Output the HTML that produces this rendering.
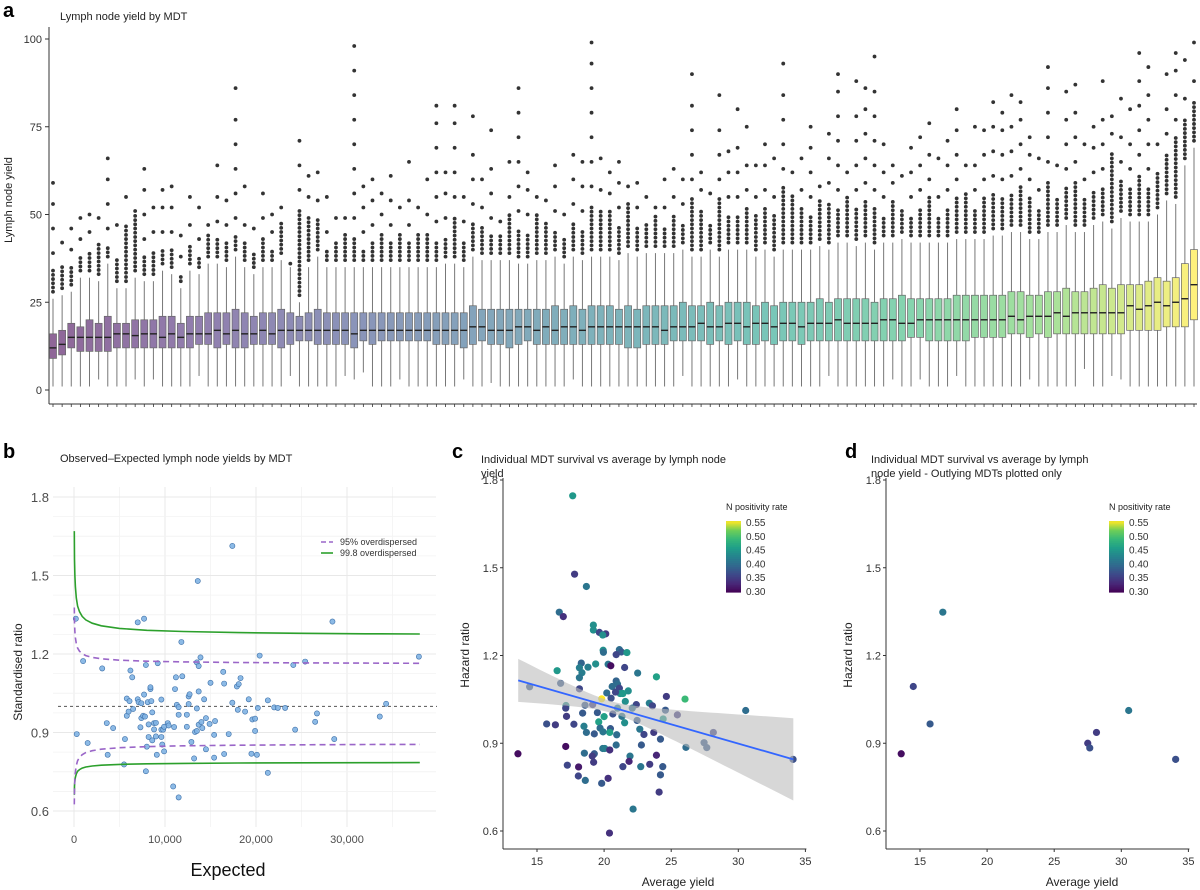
<!DOCTYPE html>
<html><head><meta charset="utf-8"><style>
html,body{margin:0;padding:0;background:#fff;}
svg{display:block;font-family:"Liberation Sans",Arial,sans-serif;}
</style></head><body>
<svg id="fig" width="1200" height="890" viewBox="0 0 1200 890" xmlns="http://www.w3.org/2000/svg">
<text x="3" y="17" font-size="20" font-weight="bold" fill="#000">a</text>
<text x="60" y="20" font-size="11" fill="#222">Lymph node yield by MDT</text>
<text transform="translate(12,200) rotate(-90)" text-anchor="middle" font-size="11" fill="#222">Lymph node yield</text>
<text x="3" y="458" font-size="20" font-weight="bold" fill="#000">b</text>
<text x="60" y="462" font-size="11" fill="#222">Observed–Expected lymph node yields by MDT</text>
<text transform="translate(22,672) rotate(-90)" text-anchor="middle" font-size="12" fill="#222">Standardised ratio</text>
<text x="228" y="876" text-anchor="middle" font-size="18" fill="#111">Expected</text>
<text x="452" y="458" font-size="20" font-weight="bold" fill="#000">c</text>
<text font-size="11" fill="#222"><tspan x="481" y="463">Individual MDT survival vs average by lymph node</tspan><tspan x="481" y="477">yield</tspan></text>
<text transform="translate(469,655) rotate(-90)" text-anchor="middle" font-size="12" fill="#222">Hazard ratio</text>
<text x="678" y="886" text-anchor="middle" font-size="12" fill="#222">Average yield</text>
<text x="845" y="458" font-size="20" font-weight="bold" fill="#000">d</text>
<text font-size="11" fill="#222"><tspan x="871" y="463">Individual MDT survival vs average by lymph</tspan><tspan x="871" y="477">node yield - Outlying MDTs plotted only</tspan></text>
<text transform="translate(852,655) rotate(-90)" text-anchor="middle" font-size="12" fill="#222">Hazard ratio</text>
<text x="1082" y="886" text-anchor="middle" font-size="12" fill="#222">Average yield</text>
<g id="ga"></g>
<g id="gb"></g>
<g id="gc"></g>
<g id="gd"></g>
</svg>
<script>
// ---------- Panel a data ----------
const aMed=[12,13,15,15,15,15,15,16,16,15.5,16,16,15,16,15,16,16,16,17,16,17,16,16,17,16,17,17,17,17,17,17,17,17,16,17,17,17,17,17,17,17,17,17,17,17,17,18,18,17,17,17,18,18,17,18,17,18,18,17,18,18,18,18,18,18,18,18,17,18,18,18,19,18,18,19,19,18,19,19,18,19,19,18,19,19,19,20,19,19,19,19,20,20,19,19,20,20,20,20,20,20,20,20,20,20,21,20,21,21,21,22,21,22,22,22,22,22,22,24,23,24,25,24,25,26,30];
const aQ1=[9,10,12,11,11,11,11,12,12,12,12,12,12,12,12,12,13,13,12,13,12,12,13,13,13,12,13,14,14,13,13,13,13,12,14,13,14,14,14,14,14,14,13,13,13,12,13,14,13,13,12,13,14,13,13,13,13,13,13,13,13,13,13,12,12,13,13,13,14,14,14,14,13,14,13,14,13,13,14,13,14,14,13,14,14,14,14,14,14,14,14,14,14,14,15,15,14,14,14,14,14,15,15,15,15,16,16,15,16,15,16,16,16,16,16,16,16,16,17,17,17,17,18,18,18,20];
const aQ3=[16,17,19,18,20,19,21,19,19,20,20,20,21,21,19,21,21,22,22,22,23,22,21,22,22,23,22,21,22,23,22,22,22,22,22,22,22,22,22,22,22,22,22,22,22,22,24,23,23,23,23,23,23,23,23,24,23,24,23,24,24,24,23,24,23,24,24,24,24,25,24,24,25,24,25,25,25,24,25,24,25,25,25,25,26,25,26,26,26,26,25,26,26,27,26,26,26,26,26,27,27,27,27,27,27,28,28,27,27,28,28,29,28,28,29,30,29,30,30,30,31,32,31,32,36,40];
const aWhiHi=[26,27,28,32,32,31,36,29,29,32,31,31,34,33,29,34,33,36,36,35,38,35,33,35,35,37,35,25,35,38,35,35,35,35,35,35,35,35,35,35,35,35,35,36,36,35,38,37,37,37,37,36,36,37,37,38,36,38,37,38,38,38,37,39,38,39,39,39,39,40,38,38,40,38,40,40,40,38,40,38,40,40,40,40,41,40,42,42,41,42,40,42,42,43,42,42,42,42,42,43,43,43,43,44,44,45,45,43,43,45,45,47,45,45,47,48,46,49,48,48,48,50,54,53,64,69];
const aWhiLo=[1,1,1,1,1,3,1,1,1,3,1,3,1,1,1,1,4,1,1,1,1,1,1,1,1,1,4,1,1,1,1,1,4,3,5,1,1,1,3,1,1,1,1,1,1,3,1,1,2,1,1,1,1,1,1,1,1,3,1,1,1,1,1,1,1,1,1,1,1,4,1,1,1,1,1,3,1,1,1,1,1,1,1,1,1,4,1,1,1,1,1,1,3,1,1,3,1,1,1,4,1,1,1,1,1,1,1,3,1,1,1,1,1,6,1,1,4,3,1,1,1,1,1,1,1,1];
const aOutTop=[34,36,35,38,40,42,41,38,47,50,38,40,40,40,33,42,38,45,43,42,44,42,39,44,40,48,34,52,50,49,40,42,45,44,40,42,45,42,45,42,45,45,43,44,50,43,48,47,44,44,50,46,45,50,48,46,44,48,46,53,52,51,47,54,47,48,50,47,50,48,55,52,48,55,50,50,52,50,52,50,58,56,52,50,55,54,52,55,52,54,52,50,54,52,50,52,55,50,52,55,56,52,55,56,55,56,58,55,52,60,55,58,60,55,57,58,68,60,58,62,58,62,68,72,78,83];
const aOutMax=[59,42,46,49,50,49,66,47,55,51,63,52,57,58,44,55,52,47,64,54,86,58,46,56,50,52,36,71,61,62,55,49,49,98,58,60,56,61,52,65,52,60,81,62,81,55,78,60,74,48,65,86,62,55,54,64,50,67,65,99,66,62,65,58,59,55,52,60,63,60,90,62,56,84,68,80,75,64,70,66,93,62,66,75,58,73,90,62,88,86,95,70,64,61,69,72,76,66,71,80,64,75,74,82,79,84,82,72,66,92,64,85,87,70,75,88,78,83,80,96,92,70,90,96,94,99];
const aYTicks=[0,25,50,75,100];

// ---------- Panel b data ----------
const bExpected=[200,300,1000,1500,3100,3600,3700,4300,5500,5600,5800,5800,6000,6100,6200,6400,6500,7000,7000,7100,7300,7400,7400,7600,7700,7700,7800,7900,8000,7900,8100,8200,8200,8400,8400,8500,8600,8600,8800,8800,9000,9000,9100,9200,9600,9600,9600,9700,9800,9900,9900,10300,10400,10900,11000,11100,11200,11300,11500,11500,11500,11800,11900,12400,12400,12600,12600,12700,12900,13200,13300,13500,13500,13500,13600,13700,13700,13700,13900,14000,14100,14300,14500,14500,14900,15000,15400,15400,15500,16400,16500,16500,17000,17400,17400,17900,18000,18100,18300,18800,19200,19600,19900,19900,19500,20100,20200,20400,21300,21300,22000,22400,23200,24100,24300,25400,26500,26700,28400,28600,33600,34300,37900];
const bRatio=[1.335,0.894,1.173,0.86,1.145,0.936,0.815,0.917,0.778,0.875,0.964,1.03,0.98,1.02,1.137,1.111,0.99,1.321,1.027,1.016,0.92,1.012,0.955,0.964,1.045,1.335,0.961,1.158,0.846,0.752,1.016,0.931,0.883,1.066,1.073,1.02,0.977,0.87,0.912,0.936,0.885,0.937,0.815,1.165,1.026,0.883,0.911,0.854,0.911,0.828,0.922,0.936,0.927,0.694,0.921,1.066,1.111,1.006,0.968,0.652,0.997,1.246,1.115,0.968,0.922,1.009,1.038,1.046,0.864,0.801,0.902,0.906,0.992,1.168,1.479,1.154,1.057,0.93,1.187,0.94,0.917,1.027,0.836,0.955,0.933,1.09,0.891,0.804,0.944,1.132,1.087,0.818,0.894,1.613,1.014,1.076,0.987,1.085,1.108,0.98,1.027,0.95,0.953,0.906,0.819,0.815,0.994,1.194,1.023,0.746,0.996,0.994,0.994,1.158,0.911,1.171,0.941,0.973,1.324,0.875,0.961,1.01,1.19];
const bXTicks=[0,10000,20000,30000];
const bXTickLabels=["0","10,000","20,000","30,000"];
const bYTicks=[0.6,0.9,1.2,1.5,1.8];
const bLimits95=[0.862,1.158];
const bLimits998=[0.789,1.264];

// ---------- Panel c data ----------
const cYield=[17.66,17.8,18.68,16.66,16.96,19.2,19.2,19.65,20.12,19.9,19.93,19.95,21.14,21.29,21.7,20.9,18.3,19.37,20.3,20.5,18.16,18.8,21.53,16.5,18.35,22.5,23.9,18.16,20.9,21.0,16.76,20.6,21.14,14.45,18.16,21.8,20.2,21.2,21.4,20.85,24.64,26.03,19.82,20.52,21.58,23.37,22.4,23.6,18.58,19.15,17.16,21.0,17.14,22.1,30.55,24.57,18.4,19.5,20.65,25.46,17.2,20.0,21.33,24.4,22.46,19.6,21.53,15.72,16.37,17.75,18.5,19.7,22.66,20.47,18.68,19.27,20.42,19.92,20.94,23.7,22.97,28.14,24.2,27.45,27.65,17.14,22.78,20.9,19.9,20.05,26.1,20.42,13.58,18.53,19.27,19.12,23.9,21.93,34.08,19.22,21.86,17.26,23.4,18.1,21.4,22.73,24.37,18.08,24.2,18.6,19.82,20.3,24.1,22.16,20.4];
const cHR=[1.746,1.478,1.436,1.348,1.333,1.304,1.287,1.279,1.274,1.27,1.218,1.211,1.22,1.212,1.21,1.203,1.174,1.171,1.17,1.165,1.158,1.16,1.159,1.148,1.141,1.14,1.127,1.124,1.113,1.102,1.105,1.094,1.088,1.093,1.086,1.079,1.072,1.07,1.07,1.075,1.06,1.051,1.052,1.054,1.043,1.037,1.032,1.028,1.03,1.032,1.029,1.02,1.02,1.02,1.012,1.013,1.003,1.005,1.0,0.997,0.992,0.991,0.992,0.983,0.978,0.973,0.97,0.966,0.963,0.965,0.958,0.952,0.948,0.95,0.937,0.932,0.937,0.939,0.929,0.937,0.93,0.937,0.914,0.902,0.885,0.889,0.894,0.894,0.882,0.882,0.886,0.877,0.864,0.866,0.864,0.856,0.859,0.856,0.845,0.835,0.838,0.825,0.828,0.819,0.82,0.82,0.82,0.788,0.792,0.773,0.763,0.78,0.733,0.675,0.593];
const cRate=[0.45,0.35,0.41,0.40,0.34,0.44,0.44,0.36,0.35,0.44,0.44,0.40,0.40,0.38,0.45,0.36,0.39,0.44,0.41,0.31,0.42,0.42,0.36,0.45,0.42,0.41,0.46,0.41,0.39,0.40,0.38,0.40,0.36,0.38,0.36,0.44,0.40,0.44,0.45,0.36,0.35,0.49,0.55,0.37,0.44,0.42,0.36,0.36,0.38,0.35,0.44,0.42,0.36,0.40,0.40,0.38,0.38,0.38,0.37,0.35,0.35,0.46,0.41,0.45,0.38,0.46,0.44,0.37,0.35,0.36,0.42,0.40,0.41,0.38,0.40,0.38,0.46,0.41,0.40,0.35,0.36,0.36,0.38,0.38,0.38,0.31,0.38,0.40,0.41,0.42,0.40,0.34,0.31,0.40,0.38,0.35,0.33,0.41,0.37,0.35,0.33,0.36,0.35,0.32,0.36,0.41,0.38,0.36,0.38,0.40,0.38,0.34,0.35,0.41,0.34];
const cFitEnds=[[13.6,1.115],[34.1,0.845]];
const cXTicks=[15,20,25,30,35];
const cYTicks=[0.6,0.9,1.2,1.5,1.8];
const legendTicks=[0.30,0.35,0.40,0.45,0.50,0.55];

// ---------- Panel d data ----------
const dYield=[13.6,14.5,15.75,16.7,27.5,27.65,28.15,30.55,34.05];
const dHR=[0.864,1.094,0.966,1.348,0.9,0.884,0.937,1.012,0.845];
const dRate=[0.31,0.36,0.38,0.41,0.35,0.37,0.35,0.41,0.37];

// ---------- helpers ----------
const NS="http://www.w3.org/2000/svg";
function mk(tag,attrs,parent){const e=document.createElementNS(NS,tag);for(const k in attrs)e.setAttribute(k,attrs[k]);parent.appendChild(e);return e;}
const VS=[[0,[68,1,84]],[0.125,[72,40,120]],[0.25,[62,73,137]],[0.375,[49,104,142]],[0.5,[38,130,142]],[0.625,[31,158,137]],[0.75,[53,183,121]],[0.875,[110,206,88]],[1,[253,231,37]]];
function viridis(t){t=Math.max(0,Math.min(1,t));for(let i=1;i<VS.length;i++){if(t<=VS[i][0]){const a=VS[i-1],b=VS[i];const f=(t-a[0])/(b[0]-a[0]);return a[1].map((v,j)=>v+(b[1][j]-v)*f);}}return VS[VS.length-1][1];}
function rgb(c,alpha,mixW){if(mixW){c=c.map(v=>v*alpha+255*(1-alpha));}return "rgb("+c.map(v=>Math.round(v)).join(",")+")";}

// ---------- Panel a ----------
(function(){
const g=document.getElementById("ga");
const n=aMed.length;
const x0=53,x1=1194;
const xa=i=>x0+i*(x1-x0)/(n-1);
const ya=v=>390-v*3.51;
const bw=7;
let ax=mk("line",{x1:49,y1:27,x2:49,y2:404,stroke:"#333","stroke-width":1},g);


ax=mk("line",{x1:49,y1:404,x2:1197,y2:404,stroke:"#333","stroke-width":1},g);


aYTicks.forEach(v=>{
 const tk=mk("line",{x1:45,x2:49,y1:ya(v),y2:ya(v),stroke:"#333"},g);
 
 
 const t=mk("text",{x:42,y:ya(v)+4,"text-anchor":"end","font-size":11,fill:"#333"},g);
 t.textContent=v;
 
 
});
for(let i=0;i<n;i++){
 const cx=xa(i);
 const col=rgb(viridis(i/(n-1)),0.6,true);
 const bg=mk("g",{},g);
 
 
 const tk=mk("line",{x1:cx,x2:cx,y1:404,y2:407,stroke:"#333","stroke-width":0.8},bg);
 
 
 const wh=mk("line",{x1:cx,x2:cx,y1:ya(aWhiHi[i]),y2:ya(aQ3[i]),stroke:"#777","stroke-width":1},bg);
 
 
 const wl=mk("line",{x1:cx,x2:cx,y1:ya(aQ1[i]),y2:ya(aWhiLo[i]),stroke:"#777","stroke-width":1},bg);
 
 
 const r=mk("rect",{x:cx-bw/2,y:ya(aQ3[i]),width:bw,height:ya(aQ1[i])-ya(aQ3[i]),fill:col,stroke:"#666","stroke-width":0.7},bg);
 
 
 const md=mk("line",{x1:cx-bw/2,x2:cx+bw/2,y1:ya(aMed[i]),y2:ya(aMed[i]),stroke:"#222","stroke-width":1.4},bg);
 
 
 const pts=[];
 for(let v=aWhiHi[i]+2;v<=aOutTop[i];v+=1.2)pts.push(v);
 for(let v=aOutTop[i]+5;v<aOutMax[i]-4;v+=7)pts.push(v);
 if(aOutMax[i]>aWhiHi[i])pts.push(aOutMax[i]);
 pts.forEach(v=>{
  const c=mk("circle",{cx:cx,cy:ya(v),r:1.9,fill:"#333"},bg);
  
  
 });
}
})();

// ---------- Panel b ----------
(function(){
const g=document.getElementById("gb");
const xb=v=>74+v*0.0091;
const yb=v=>497+(1.8-v)*261.7;
for(let v=-5000;v<=40000;v+=5000){if(xb(v)<53||xb(v)>436)continue;
 const l=mk("line",{x1:xb(v),x2:xb(v),y1:487,y2:827,stroke:(v%10000===0)?"#e8e8e8":"#f3f3f3","stroke-width":(v%10000===0)?1:0.8},g);
 
 }
for(let k=0;k<=9;k++){const v=0.525+k*0.15;if(yb(v)<487||yb(v)>827)continue;
 const l=mk("line",{x1:53,x2:436,y1:yb(v),y2:yb(v),stroke:"#f3f3f3","stroke-width":0.8},g);
 
 }
bYTicks.concat([0.75,1.05,1.35,1.65]).forEach(v=>{
 const major=bYTicks.indexOf(v)>=0;
 const l=mk("line",{x1:53,x2:436,y1:yb(v),y2:yb(v),stroke:major?"#e8e8e8":"#f3f3f3"},g);
 
 
});
bYTicks.forEach(v=>{
 const t=mk("text",{x:49,y:yb(v)+5,"text-anchor":"end","font-size":13,fill:"#4d4d4d"},g);
 t.textContent=v.toFixed(1);
 
 
});
bXTicks.forEach((v,i)=>{
 const t=mk("text",{x:xb(v),y:843,"text-anchor":"middle","font-size":11,fill:"#4d4d4d"},g);
 t.textContent=bXTickLabels[i];
 
 
});
const ref=mk("line",{x1:58,x2:437,y1:yb(1),y2:yb(1),stroke:"#555","stroke-width":1,"stroke-dasharray":"3,3"},g);


for(let i=0;i<bExpected.length;i++){
 const c=mk("circle",{cx:xb(bExpected[i]),cy:yb(bRatio[i]),r:2.6,fill:"#7fb3e3",stroke:"#3c6fa8","stroke-width":0.6,"fill-opacity":0.9},g);
 
 
}
function funnel(limit,spread,sign){let d="";const xs=[30,60,100,150,250,400,600,900,1300,2000,3000,5000,8000,12000,18000,25000,32000,38000];
 xs.forEach((x,i)=>{let v=limit+sign*spread/Math.sqrt(x+5);d+=(i?"L":"M")+xb(x).toFixed(1)+","+yb(v).toFixed(1);});return d;}
const p1=mk("path",{d:funnel(bLimits998[1],2.4,1),fill:"none",stroke:"#2ca02c","stroke-width":1.6},g);


const p2=mk("path",{d:funnel(bLimits998[0],0.75,-1),fill:"none",stroke:"#2ca02c","stroke-width":1.6},g);


const p3=mk("path",{d:funnel(bLimits95[1],1.3,1),fill:"none",stroke:"#9a66c8","stroke-width":1.6,"stroke-dasharray":"6,4"},g);


const p4=mk("path",{d:funnel(bLimits95[0],1.4,-1),fill:"none",stroke:"#9a66c8","stroke-width":1.6,"stroke-dasharray":"6,4"},g);


const lg=mk("g",{},g);


const l1=mk("line",{x1:321,x2:333,y1:542,y2:542,stroke:"#9a66c8","stroke-width":1.6,"stroke-dasharray":"5,3"},lg);


const t1=mk("text",{x:340,y:545,"font-size":9,fill:"#333"},lg);t1.textContent="95% overdispersed";


const l2=mk("line",{x1:321,x2:333,y1:553,y2:553,stroke:"#2ca02c","stroke-width":1.6},lg);


const t2=mk("text",{x:340,y:556,"font-size":9,fill:"#333"},lg);t2.textContent="99.8 overdispersed";


})();

// ---------- Panels c & d ----------
function scatterPanel(gid,xAxis,xs,ys,rs,withFit,pref){
 const g=document.getElementById(gid);
 const xc=v=>xAxis+(v-15)*13.42;
 const yc=v=>480+(1.8-v)*292.5;
 const axL=xAxis-34;
 let a=mk("line",{x1:axL,y1:478,x2:axL,y2:849,stroke:"#333","stroke-width":1},g);
 
 
 a=mk("line",{x1:axL,y1:849,x2:xc(35)+1,y2:849,stroke:"#333","stroke-width":1},g);
 
 
 cYTicks.forEach(v=>{
  const tk=mk("line",{x1:axL-3,x2:axL,y1:yc(v),y2:yc(v),stroke:"#333"},g);
  
  
  const t=mk("text",{x:axL-5,y:yc(v)+4,"text-anchor":"end","font-size":11,fill:"#333"},g);
  t.textContent=v.toFixed(1);
  
  
 });
 cXTicks.forEach(v=>{
  const tk=mk("line",{x1:xc(v),x2:xc(v),y1:849,y2:852,stroke:"#333"},g);
  
  
  const t=mk("text",{x:xc(v),y:865,"text-anchor":"middle","font-size":11,fill:"#333"},g);
  t.textContent=v;
  
  
 });
 for(let i=0;i<xs.length;i++){
  const c=mk("circle",{cx:xc(xs[i]),cy:yc(ys[i]),r:3.6,fill:rgb(viridis((rs[i]-0.30)/0.25))},g);
  
  
 }
 if(withFit){
  const [p0,p1]=cFitEnds;const xm=20.5;
  const lineAt=x=>p0[1]+(p1[1]-p0[1])*(x-p0[0])/(p1[0]-p0[0]);
  const hw=x=>Math.sqrt(0.0004+0.000105*(x-xm)*(x-xm));
  let up="",lo="";const N=40;
  for(let k=0;k<=N;k++){const x=p0[0]+(p1[0]-p0[0])*k/N;up+=(k?"L":"M")+xc(x).toFixed(1)+","+yc(lineAt(x)+hw(x)).toFixed(1);}
  for(let k=N;k>=0;k--){const x=p0[0]+(p1[0]-p0[0])*k/N;lo+="L"+xc(x).toFixed(1)+","+yc(lineAt(x)-hw(x)).toFixed(1);}
  const band=mk("path",{d:up+lo+"Z",fill:"#bdbdbd","fill-opacity":0.6},g);
  
  
  const fl=mk("line",{x1:xc(p0[0]),y1:yc(p0[1]),x2:xc(p1[0]),y2:yc(p1[1]),stroke:"#3366ff","stroke-width":1.8},g);
  
  
 }
 const lx=xAxis+189;
 const lg=mk("g",{},g);
 
 
 const tt=mk("text",{x:lx,y:510,"font-size":9,fill:"#222"},lg);tt.textContent="N positivity rate";
 
 
 const ly=v=>591-(v-0.30)/0.25*69;
 for(let k=0;k<36;k++){const t0=k/36,t1=(k+1)/36;
  const r=mk("rect",{x:lx,y:591-t1*71+1,width:15,height:71/36+0.6,fill:rgb(viridis((t0+t1)/2))},lg);
  
  }
 legendTicks.forEach(v=>{
  const t=mk("text",{x:lx+20,y:ly(v)+4,"font-size":10,fill:"#333"},lg);
  t.textContent=v.toFixed(2);
  
  
 });
}
scatterPanel("gc",537,cYield,cHR,cRate,true,"panel-c");
scatterPanel("gd",920,dYield,dHR,dRate,false,"panel-d");
</script>
</body></html>
